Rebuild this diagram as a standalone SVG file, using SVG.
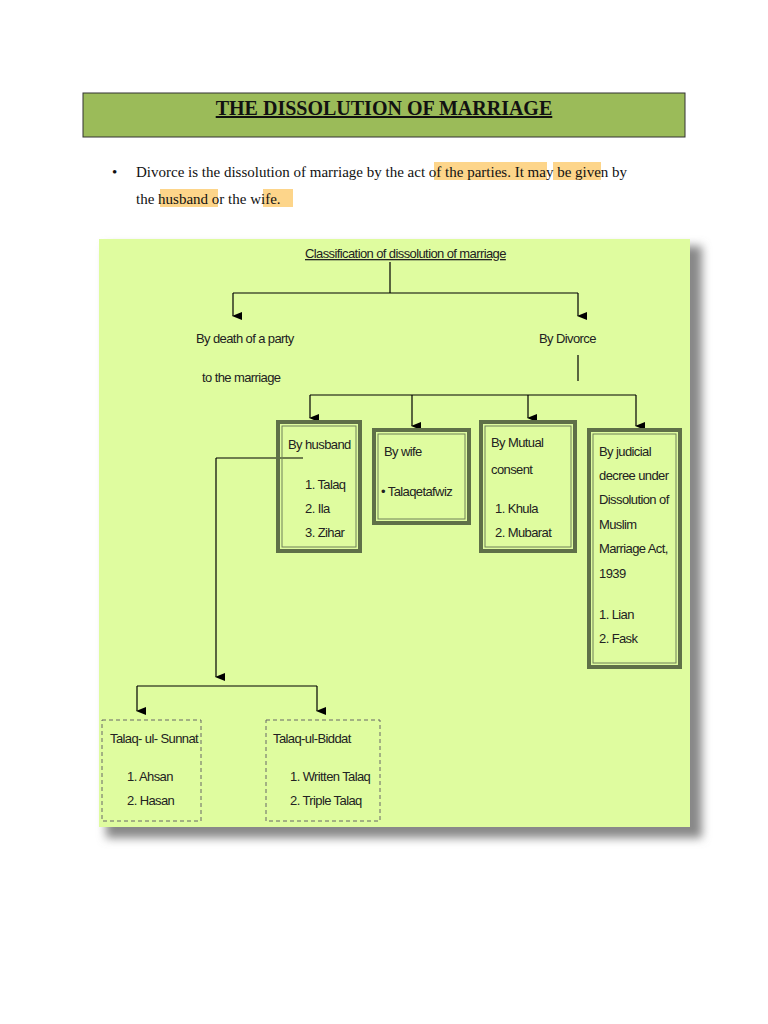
<svg xmlns="http://www.w3.org/2000/svg" width="768" height="1024" viewBox="0 0 768 1024">
<defs>
<marker id="ar" markerWidth="8" markerHeight="10" refX="4" refY="9" orient="auto-start-reverse" markerUnits="userSpaceOnUse"><path d="M0,0 L8,0 L4,10 Z" fill="#000" transform="rotate(0)"/></marker>
<filter id="sh" x="-5%" y="-5%" width="115%" height="115%"><feGaussianBlur stdDeviation="5"/></filter>
</defs>
<style>
.t{font-family:"Liberation Sans",Arial,sans-serif;font-size:13px;fill:#222;letter-spacing:-0.6px}
.s{font-family:"Liberation Serif","Times New Roman",serif;font-size:15px;fill:#111}
.c{stroke:#000;stroke-width:1.2;fill:none}
.ca{stroke:#000;stroke-width:1.2;fill:none}
.bo{fill:none;stroke:#5f7048;stroke-width:4}
.bi{fill:none;stroke:#6f8058;stroke-width:1}
.d{fill:none;stroke:#666;stroke-width:1;stroke-dasharray:4,3}
</style>
<rect width="768" height="1024" fill="#fff"/>
<g id="title">
<rect x="83" y="93" width="602" height="44" fill="#9bbb59" stroke="#333" stroke-width="1"/>
<text x="384" y="115" text-anchor="middle" font-family="Liberation Serif,serif" font-weight="bold" font-size="20" text-decoration="underline" fill="#111">THE DISSOLUTION OF MARRIAGE</text>
</g>
<g id="bullet">
<rect x="434" y="162" width="113" height="18" fill="#fdd58a"/>
<rect x="553" y="162" width="48" height="18" fill="#fdd58a"/>
<rect x="160" y="189" width="58" height="18" fill="#fdd58a"/>
<rect x="263" y="189" width="30" height="18" fill="#fdd58a"/>
<text x="112" y="177" class="s">•</text>
<text x="136" y="177" class="s">Divorce is the dissolution of marriage by the act of the parties. It may be given by</text>
<text x="136" y="204" class="s">the husband or the wife.</text>
</g>
<rect x="106" y="246" width="596" height="592" fill="#888" filter="url(#sh)"/>
<rect x="99" y="239" width="591" height="588" fill="#dffc9f"/>
<g id="connectors">
<path class="c" d="M390,262 V293 M233,293 H578"/>
<path class="ca" d="M233,293 V316" marker-end="url(#ar)"/>
<path class="ca" d="M578,293 V316" marker-end="url(#ar)"/>
<path class="c" d="M578,355 V381"/>
<path class="c" d="M310,395 H636"/>
<path class="ca" d="M310,395 V418" marker-end="url(#ar)"/>
<path class="ca" d="M412,395 V426" marker-end="url(#ar)"/>
<path class="ca" d="M528,395 V418" marker-end="url(#ar)"/>
<path class="ca" d="M636,395 V426" marker-end="url(#ar)"/>
<path class="c" d="M303,458 H216"/>
<path class="ca" d="M216,458 V677" marker-end="url(#ar)"/>
<path class="c" d="M137,686 H317"/>
<path class="ca" d="M137,686 V711" marker-end="url(#ar)"/>
<path class="ca" d="M317,686 V711" marker-end="url(#ar)"/>
</g>
<g id="root"><text x="305" y="258" class="t" text-decoration="underline">Classification of dissolution of marriage</text></g>
<g id="death"><text x="196" y="343" class="t">By death of a party</text><text x="202" y="382" class="t">to the marriage</text></g>
<g id="divorce"><text x="539" y="343" class="t">By Divorce</text></g>
<g id="husband">
<rect x="278" y="422" width="82" height="129" class="bo"/><rect x="282" y="426" width="74" height="121" class="bi"/>
<text x="288" y="449" class="t">By husband</text>
<text x="305" y="489" class="t">1.   Talaq</text><text x="305" y="513" class="t">2.   Ila</text><text x="305" y="537" class="t">3.   Zihar</text>
</g>
<g id="wife">
<rect x="374" y="430" width="95" height="93" class="bo"/><rect x="378" y="434" width="87" height="85" class="bi"/>
<text x="384" y="456" class="t">By wife</text>
<text x="381" y="496" class="t">•    Talaqetafwiz</text>
</g>
<g id="mutual">
<rect x="481" y="422" width="94" height="129" class="bo"/><rect x="485" y="426" width="86" height="121" class="bi"/>
<text x="491" y="447" class="t">By Mutual</text><text x="491" y="474" class="t">consent</text>
<text x="495" y="513" class="t">1.   Khula</text><text x="495" y="537" class="t">2.   Mubarat</text>
</g>
<g id="judicial">
<rect x="589" y="430" width="91" height="237" class="bo"/><rect x="593" y="434" width="83" height="229" class="bi"/>
<text x="599" y="456" class="t">By judicial</text><text x="599" y="480" class="t">decree under</text><text x="599" y="504" class="t">Dissolution of</text><text x="599" y="529" class="t">Muslim</text><text x="599" y="553" class="t">Marriage Act,</text><text x="599" y="578" class="t">1939</text>
<text x="599" y="619" class="t">1.   Lian</text><text x="599" y="643" class="t">2.   Fask</text>
</g>
<g id="sunnat">
<rect x="102" y="720" width="99" height="101" class="d"/>
<text x="110" y="743" class="t">Talaq- ul- Sunnat</text>
<text x="127" y="781" class="t">1.   Ahsan</text><text x="127" y="805" class="t">2.   Hasan</text>
</g>
<g id="biddat">
<rect x="266" y="720" width="114" height="101" class="d"/>
<text x="273" y="743" class="t">Talaq-ul-Biddat</text>
<text x="290" y="781" class="t">1.   Written Talaq</text><text x="290" y="805" class="t">2.   Triple Talaq</text>
</g>
</svg>
